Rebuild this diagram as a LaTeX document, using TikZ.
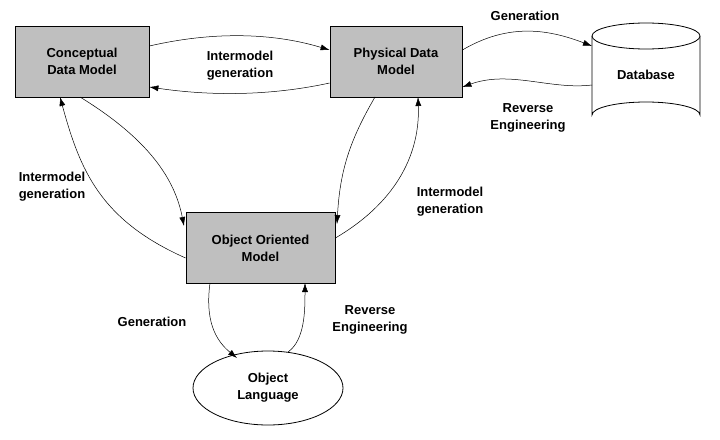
\documentclass[tikz,border=0pt]{standalone}
\usepackage{fontspec}
\setmainfont{Liberation Sans}
\usetikzlibrary{arrows.meta,shapes.geometric}
\begin{document}
\begin{tikzpicture}[x=1pt,y=-1pt,
  box/.style={draw,thick,fill=black!25,minimum width=#1,minimum height=71pt,align=center,font=\bfseries\fontsize{13}{17}\selectfont},
  lbl/.style={align=center,font=\bfseries\fontsize{13}{17}\selectfont},
  con/.style={-{Latex[length=9pt,width=6pt]},line width=0.5pt}]
\useasboundingbox (0,0) rectangle (720,439);
\node[box=134pt] (c) at (82,61.5) {Conceptual\\Data Model};
\node[box=132pt] (p) at (396,61.5) {Physical Data\\Model};
\node[box=149pt] (o) at (260.5,248) {Object Oriented\\Model};
\node[draw,thick,ellipse,minimum width=150pt,minimum height=74pt,align=center,font=\bfseries\fontsize{13}{17}\selectfont] (l) at (268,388) {Object\\Language};
% database cylinder
\draw[thick,fill=white] (592,36) -- (592,115) arc[start angle=180,end angle=360,x radius=54,y radius=13] -- (700,36);
\draw[thick,fill=white] (646,36) ellipse[x radius=54,y radius=13];
\node[lbl] (db) at (646,75) {Database};
\coordinate (dbtop) at (592,46);
\coordinate (dbbot) at (592,85);
% connectors
\draw[con] (c.east|-0,46) .. controls (210,32) and (270,32) .. (p.west|-0,50);
\draw[con] (p.west|-0,83) .. controls (270,96) and (210,96) .. (c.east|-0,87);
\draw[con] (p.east|-0,50) .. controls (510,22) and (550,30) .. (dbtop);
\draw[con] (dbbot) .. controls (550,90) and (510,70) .. (p.east|-0,87);
\draw[con] (80,97) .. controls (150,140) and (175,180) .. (184,226);
\draw[con] (o.west|-0,258) .. controls (100,220) and (80,170) .. (60,97);
\draw[con] (375,97) .. controls (350,140) and (340,170) .. (337,224);
\draw[con] (o.east|-0,238) .. controls (400,200) and (420,150) .. (418,97);
\draw[con] (210,283) .. controls (205,320) and (215,340) .. (237,358);
\draw[con] (288,352) .. controls (305,340) and (305,310) .. (305,283);
% labels
\node[lbl] at (240,66) {Intermodel\\generation};
\node[lbl] at (52,187) {Intermodel\\generation};
\node[lbl] at (450,202) {Intermodel\\generation};
\node[lbl] at (525,16) {Generation};
\node[lbl] at (528,118) {Reverse\\Engineering};
\node[lbl] at (152,322) {Generation};
\node[lbl] at (370,320) {Reverse\\Engineering};
\end{tikzpicture}
\end{document}
